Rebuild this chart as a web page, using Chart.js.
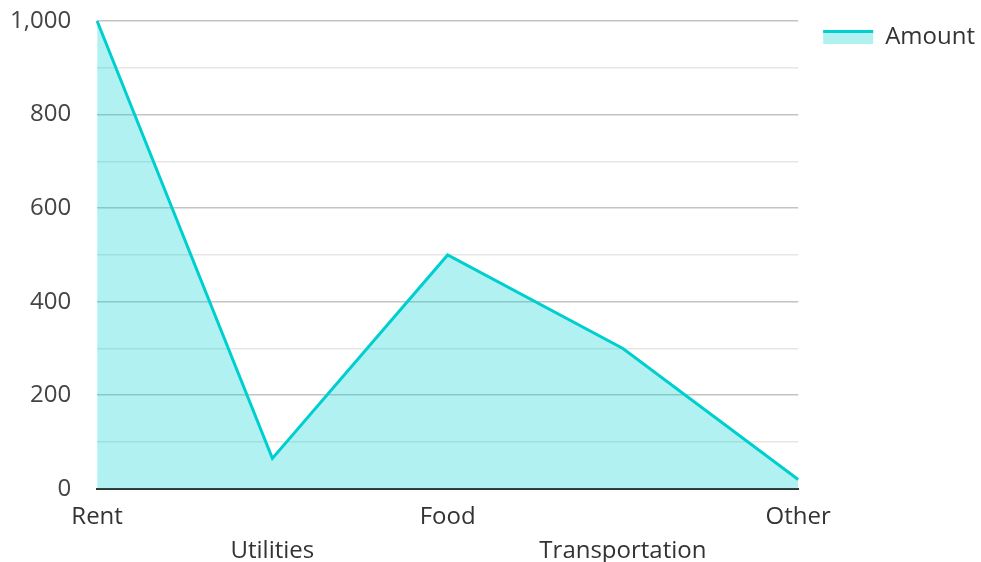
<!DOCTYPE html>
<html>
<head>
<meta charset="utf-8">
<script src="https://cdn.jsdelivr.net/npm/chart.js@4"></script>
<style>
  html, body { margin: 0; padding: 0; background: #fff; }
  #wrap { width: 981px; height: 562px; }
</style>
</head>
<body>
<div id="wrap"><canvas id="chart" width="981" height="562"></canvas></div>
<script>
const categories = ['Rent', 'Utilities', 'Food', 'Transportation', 'Other'];
const amounts = [1000, 65, 500, 300, 20];
const yTicks = [0, 200, 400, 600, 800, 1000];

const lineColor = '#00cfd0';
const fillColor = 'rgba(0, 207, 208, 0.3)';

// stagger every second category label onto a second row
const xLabels = categories.map((c, i) => i % 2 ? ['', c] : [c]);

const legendTopLine = {
  id: 'legendTopLine',
  afterDraw(chart) {
    const boxes = chart.legend.legendHitBoxes;
    if (!boxes || !boxes.length) return;
    const ctx = chart.ctx;
    const b = boxes[0];
    ctx.save();
    ctx.fillStyle = lineColor;
    ctx.fillRect(b.left, b.top + (b.height - 14) / 2, 50, 3);
    ctx.restore();
  }
};

new Chart(document.getElementById('chart'), {
  type: 'line',
  data: {
    labels: xLabels,
    datasets: [{
      label: 'Amount',
      data: amounts,
      borderColor: lineColor,
      backgroundColor: fillColor,
      borderWidth: 3,
      fill: 'origin',
      tension: 0,
      pointRadius: 0,
      pointHoverRadius: 0
    }]
  },
  options: {
    responsive: false,
    animation: false,
    layout: { padding: { left: -16, top: 0, right: -4, bottom: -18 } },
    font: { family: '"Open Sans", sans-serif' },
    plugins: {
      tooltip: { enabled: false },
      legend: {
        position: 'right',
        align: 'start',
        labels: {
          boxWidth: 50,
          boxHeight: 14,
          padding: 25,
          color: '#333',
          font: { family: '"Open Sans", sans-serif', size: 24 },
          generateLabels: () => [{
            text: 'Amount',
            fillStyle: fillColor,
            strokeStyle: 'rgba(0,0,0,0)',
            lineWidth: 0,
            fontColor: '#333'
          }]
        }
      }
    },
    scales: {
      x: {
        offset: false,
        grid: { display: false, drawTicks: false },
        border: { display: true, color: '#333', width: 2 },
        ticks: {
          autoSkip: false,
          maxRotation: 0,
          padding: 12,
          color: '#333',
          font: { family: '"Open Sans", sans-serif', size: 24, lineHeight: 1.4 }
        }
      },
      y: {
        min: 0,
        max: 1000,
        afterFit: s => { s.paddingTop = 21; },
        grid: {
          drawTicks: false,
          color: c => yTicks.includes(c.tick.value) ? '#c4c4c4' : '#e6e6e6',
          lineWidth: 1.5
        },
        border: { display: false },
        ticks: {
          stepSize: 100,
          padding: 26,
          color: '#444',
          font: { family: '"Open Sans", sans-serif', size: 24 },
          callback: v => yTicks.includes(v) ? v.toLocaleString('en-US') : ''
        }
      }
    }
  },
  plugins: [legendTopLine]
});
</script>
</body>
</html>
